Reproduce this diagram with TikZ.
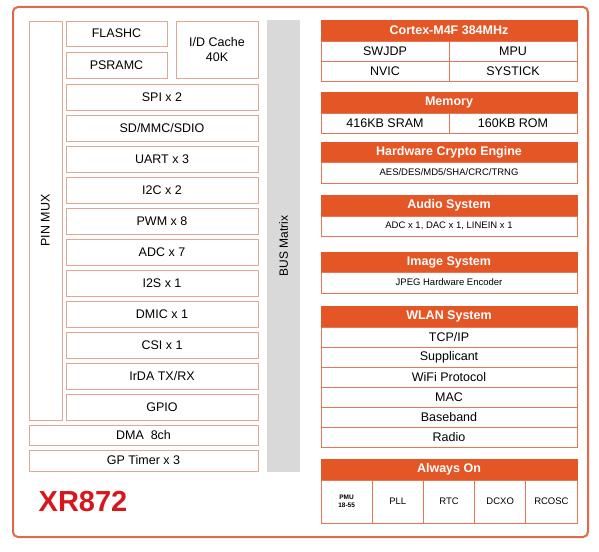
\documentclass[tikz,border=0pt]{standalone}
\usepackage{fontspec}
\setmainfont{Liberation Sans}
\usetikzlibrary{positioning}
\definecolor{xrorange}{RGB}{228,86,38}
\definecolor{xrframe}{RGB}{224,106,72}
\definecolor{xrline}{RGB}{232,118,84}
\definecolor{xrpink}{RGB}{228,166,148}
\definecolor{xrgray}{RGB}{217,217,217}
\definecolor{xrred}{RGB}{215,22,30}
% block from (x1,y1) to (x2,y2), pixel units
\newcommand{\blk}[7][]{%
  \node[#1, minimum width={((#5)-(#3))*1pt}, minimum height={((#6)-(#4))*1pt}]
    (#2) at ({((#3)+(#5))/2},{((#4)+(#6))/2}) {#7};}
\tikzset{
  lbox/.style={draw=xrpink, fill=white, line width=0.9pt, inner sep=0pt,
    font=\fontsize{12.5}{15}\selectfont, align=center},
  bus/.style={fill=xrgray, inner sep=0pt, font=\fontsize{12}{14}\selectfont},
  hdr/.style={draw=xrorange, fill=xrorange, text=white, inner sep=0pt,
    font=\fontsize{12.5}{15}\selectfont\bfseries},
  cell/.style={draw=xrline, fill=white, line width=0.9pt, inner sep=0pt,
    font=\fontsize{12.5}{15}\selectfont, align=center},
  small/.style={font=\fontsize{9.5}{11}\selectfont},
  tiny/.style={font=\fontsize{9.5}{8}\selectfont},
  frame/.style={draw=xrframe, line width=2pt, rounded corners=5pt},
}
\begin{document}
\begin{tikzpicture}[x=1pt,y=-1pt]
\useasboundingbox (0,0) rectangle (599,551);
\draw[frame] (13,7) rectangle (588,537);
% left part
\blk[lbox]{pinmux}{29}{21}{62}{420}{\rotatebox{90}{PIN MUX}}
\blk[lbox]{flashc}{66}{21}{167}{46}{FLASHC}
\blk[lbox]{psramc}{66}{52}{167}{78}{PSRAMC}
\blk[lbox]{cache}{176}{21}{258}{78}{I/D Cache\\40K}
\foreach \t [count=\i] in {SPI x 2,SD/MMC/SDIO,UART x 3,I2C x 2,PWM x 8,ADC x 7,
    I2S x 1,DMIC x 1,CSI x 1,IrDA TX/RX,GPIO}
  \blk[lbox]{per\i}{66}{84+31*(\i-1)}{258}{84+31*(\i-1)+26}{\t};
\blk[lbox]{dma}{29}{425}{258}{445}{DMA\ \ 8ch}
\blk[lbox]{timer}{29}{450}{258}{471}{GP Timer x 3}
\blk[bus]{busmx}{267}{20}{300}{472}{\rotatebox{90}{BUS Matrix}}
\node[text=xrred, font=\fontsize{29}{32}\selectfont\bfseries] (chip) at (83,502) {XR872};
% right part
\blk[hdr]{cpu}{321}{20}{577}{41}{Cortex-M4F 384MHz}
\blk[cell]{swjdp}{321}{41}{449}{61}{SWJDP}
\blk[cell]{mpu}{449}{41}{577}{61}{MPU}
\blk[cell]{nvic}{321}{61}{449}{81}{NVIC}
\blk[cell]{systick}{449}{61}{577}{81}{SYSTICK}
\blk[hdr]{mem}{321}{92}{577}{113}{Memory}
\blk[cell]{sram}{321}{113}{449}{133}{416KB SRAM}
\blk[cell]{rom}{449}{113}{577}{133}{160KB ROM}
\blk[hdr]{crypto}{321}{142}{577}{162}{Hardware Crypto Engine}
\blk[cell, small]{cryptor}{321}{162}{577}{183}{AES/DES/MD5/SHA/CRC/TRNG}
\blk[hdr]{audio}{321}{195}{577}{216}{Audio System}
\blk[cell, small]{audior}{321}{216}{577}{236}{ADC x 1, DAC x 1, LINEIN x 1}
\blk[hdr]{image}{321}{252}{577}{272}{Image System}
\blk[cell, small]{imager}{321}{272}{577}{293}{JPEG Hardware Encoder}
\blk[hdr]{wlan}{321}{306}{577}{327}{WLAN System}
\foreach \t [count=\i] in {TCP/IP,Supplicant,WiFi Protocol,MAC,Baseband,Radio}
  \blk[cell]{wlan\i}{321}{327+20*(\i-1)}{577}{327+20*\i}{\t};
\blk[hdr]{aon}{321}{459}{577}{480}{Always On}
\blk[cell, font=\fontsize{6.5}{7.5}\selectfont\bfseries]{pmu}{321}{480}{372.2}{523}{PMU\\18-55}
\foreach \t [count=\i] in {PLL,RTC,DCXO,RCOSC}
  \blk[cell, tiny]{aon\i}{321+51.2*\i}{480}{321+51.2*(\i+1)}{523}{\t};
\end{tikzpicture}
\end{document}
